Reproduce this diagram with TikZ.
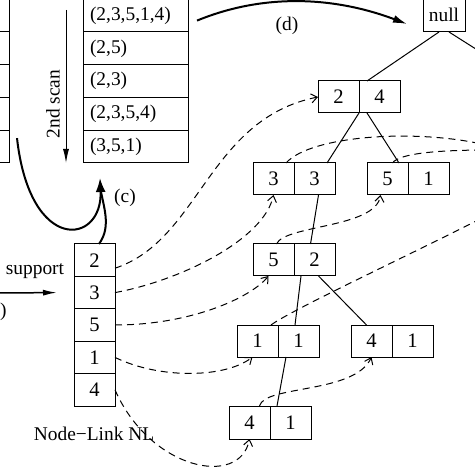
\documentclass[tikz,border=0pt]{standalone}
\usepackage{fontspec}
\setmainfont{Liberation Serif}
\usetikzlibrary{positioning,arrows.meta}
\newcommand{\figfont}{\fontsize{9.7}{11}\selectfont}
\newcommand{\cellfont}{\fontsize{10.3}{12}\selectfont}
\tikzset{
  tcell/.style={draw, minimum width=20.5pt, minimum height=16pt, inner sep=0pt, outer sep=0pt, font=\cellfont},
  rowbox/.style={draw, minimum height=16.375pt, text width=45.5pt, inner xsep=3.5pt, inner ysep=0pt, outer sep=0pt, align=left, font=\figfont},
  nlbox/.style={tcell, minimum height=16.2pt},
  chain/.style={dash pattern=on 3.5pt off 2.5pt},
  nlink/.style={chain, -{Straight Barb[length=3pt,width=4.5pt]}},
  bigarrow/.style={line width=1pt, -{Latex[length=7pt,width=5pt]}},
  thinarrow/.style={-{Latex[length=7pt,width=3pt]}},
  lbl/.style={font=\figfont, inner sep=0pt}
}
\begin{document}
\begin{tikzpicture}[x=0.5pt, y=-0.5pt, line width=0.5pt]
        \useasboundingbox (0,0) rectangle (474,474);

        % 左の表（切れている）
        \foreach \i in {1,...,5}
            \node[rowbox, text width=13pt] (lt\i) at (-11, {-0.75+32.75*(\i-0.5)}) {};

        % 2回目のスキャン
        \foreach \t [count=\i] in {{(2,3,5,1,4)},{(2,5)},{(2,3)},{(2,3,5,4)},{(3,5,1)}}
            \node[rowbox] (mt\i) at (135.5, {-0.75+32.75*(\i-0.5)}) {\t};
        \coordinate (scanA) at (66,10);
        \coordinate (scanB) at (66,163);
        \draw[thinarrow] (scanA) -- (scanB);
        \node[lbl, rotate=90] (scanlbl) at (53,104) {2nd scan};

        % Node-Link 表
        \foreach \v [count=\i] in {2,3,5,1,4}
            \node[nlbox] (nl\i) at (94.5, {244+32.4*(\i-0.5)}) {\v};
        \node[lbl] (nlname) at (94,434) {Node−Link NL};

        % support の矢印
        \coordinate (supin) at (-5,293);
        \draw[thinarrow, line width=0.75pt] (supin) -- ([shift={(-17,0)}]nl2.west);
        \node[lbl] (suplbl) at (35,271) {support};
        \node[lbl, anchor=east] (cutlbl) at (7,312) {)};

        % 木のノード
        \node[tcell, minimum width=21pt, minimum height=17pt, font=\figfont] (tnull) at (444,15) {null};
        \node[tcell] (t24a) at (338.5,97) {2};
        \node[tcell, right=0pt of t24a] (t24b) {4};
        \node[tcell] (t33a) at (273.5,179) {3};
        \node[tcell, right=0pt of t33a] (t33b) {3};
        \node[tcell] (t51a) at (387.5,179) {5};
        \node[tcell, right=0pt of t51a] (t51b) {1};
        \node[tcell] (t52a) at (273.5,260) {5};
        \node[tcell, right=0pt of t52a] (t52b) {2};
        \node[tcell] (t11a) at (257.5,341) {1};
        \node[tcell, right=0pt of t11a] (t11b) {1};
        \node[tcell] (t41a) at (371.5,341) {4};
        \node[tcell, right=0pt of t41a] (t41b) {1};
        \node[tcell, minimum height=16.5pt] (t41c) at (249.5,422.5) {4};
        \node[tcell, minimum height=16.5pt, right=0pt of t41c] (t41d) {1};

        % 木の枝
        \coordinate (offnull) at (490,58);
        \draw ([shift={(-5,0)}]tnull.south) -- ([shift={(8,0)}]t24b.north west);
        \draw ([shift={(5,0)}]tnull.south) -- (offnull);
        \draw (t24a.south east) -- ([shift={(-8,0)}]t33b.north east);
        \draw ([shift={(8,0)}]t24b.south west) -- ([shift={(-9,0)}]t51a.north east);
        \draw ([shift={(4,0)}]t33b.south) -- ([shift={(-4,0)}]t52b.north);
        \draw ([shift={(7,0)}]t52b.south west) -- ([shift={(-3.5,0)}]t11b.north);
        \draw ([shift={(4,0)}]t52b.south) -- ([shift={(-5,0)}]t41a.north);
        \draw ([shift={(8,0)}]t11b.south west) -- ([shift={(7,0)}]t41d.north west);

        % NL からのリンク
        \draw[nlink] ([shift={(0,8)}]nl1.east) .. controls +(85,-28) and +(-110,22) .. (t24a.west);
        \draw[nlink] (nl2.east) .. controls +(65,-12) and +(-10,45) .. (t33a.south);
        \draw[nlink] (nl3.east) .. controls +(75,0) and +(-18,22) .. ([shift={(-5,0)}]t52a.south);
        \draw[nlink] (nl4.east) .. controls +(45,22) and +(-27,21) .. ([shift={(-5,0)}]t11a.south);
        \draw[nlink] (nl5.east) .. controls +(35,80) and +(-10,49) .. (t41c.south);

        % 同じ項目のノード間リンク
        \coordinate (off3) at (490,146);
        \coordinate (off5) at (490,150);
        \coordinate (off1) at (490,214);
        \draw[nlink] ([shift={(3,0)}]t52a.north) .. controls +(8,-19) and +(-5,33) .. ([shift={(-7,0)}]t51a.south);
        \draw[nlink] ([shift={(10,0)}]t41c.north) .. controls +(5,-21) and +(-17,37) .. (t41a.south);
        \draw[chain] ([shift={(-8,0)}]t33a.north east) .. controls +(25,-28) and +(-70,-18) .. (off3);
        \draw[chain] ([shift={(5,0)}]t51a.north) .. controls +(7,-10) and +(-50,0) .. (off5);
        \draw[chain] ([shift={(-7,0)}]t11a.north east) .. controls +(20,-15) and +(-70,36) .. (off1);

        % (c) の矢印
        \coordinate (ctip) at ([shift={(17,15)}]mt5.south west);
        \draw[bigarrow] ([shift={(8,-8.5)}]lt5.east) .. controls +(13,117) and +(3,67) .. (ctip);
        \draw[line width=1pt] ([shift={(4.5,0)}]nl1.north) .. controls +(13,-18) and +(3,20) .. ([shift={(0,8)}]ctip);
        \node[lbl] (clbl) at (125,198) {(c)};

        % (d) の矢印
        \draw[bigarrow, -{Latex[length=7pt,width=4pt]}] ([shift={(9,5)}]mt1.east) .. controls +(63,-26) and +(-77,-29) .. ([shift={(-16,9)}]tnull.west);
        \node[lbl] (dlbl) at (287,26) {(d)};

    \end{tikzpicture}
\end{document}
